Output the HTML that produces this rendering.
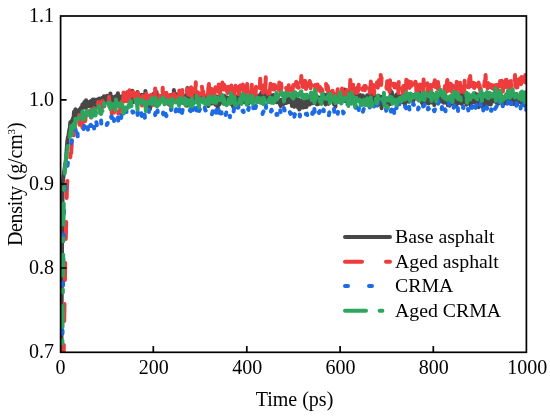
<!DOCTYPE html>
<html><head><meta charset="utf-8"><style>
html,body{margin:0;padding:0;background:#fff;}
svg{display:block;}
text{font-family:"Liberation Serif","Times New Roman",serif;font-size:20px;fill:#000;}
</style></head><body>
<svg width="550" height="417" viewBox="0 0 550 417">
<rect width="550" height="417" fill="#fff"/>
<defs><clipPath id="c"><rect x="60.6" y="16" width="465.8" height="336.3"/></clipPath></defs>
<g clip-path="url(#c)">
<polyline points="61.4,352.0 61.9,267.9 62.3,210.6 62.8,182.3 63.3,177.9 63.7,174.6 64.2,171.1 64.7,168.1 65.1,164.4 65.6,163.2 66.1,159.1 66.5,153.2 67.0,144.7 67.5,140.0 67.9,137.5 68.4,136.0 68.9,132.3 69.3,129.9 69.8,128.4 70.3,122.1 70.7,122.0 71.2,130.0 71.7,124.2 72.1,120.3 72.6,121.2 73.1,118.2 73.5,118.0 74.0,111.8 74.5,121.3 74.9,115.3 75.4,109.3 75.9,114.1 76.3,112.1 76.8,115.2 77.3,116.7 77.7,110.6 78.2,111.9 78.7,114.3 79.1,111.3 79.6,109.7 80.1,111.7 80.5,108.1 81.0,107.8 81.5,107.4 81.9,108.3 82.4,104.5 82.9,104.2 83.3,105.2 83.8,107.5 84.3,102.2 84.7,106.7 85.2,101.3 85.7,107.9 86.1,100.3 86.6,105.0 87.1,106.8 87.5,103.5 88.0,103.3 88.5,102.6 88.9,106.0 89.4,105.1 89.9,101.6 90.3,104.4 90.8,101.5 91.3,100.9 91.7,107.5 92.2,100.2 92.7,99.7 93.1,103.9 93.6,104.0 94.1,99.6 94.5,102.3 95.0,99.7 95.5,103.9 95.9,105.7 96.4,101.4 96.9,103.6 97.3,99.5 97.8,102.2 98.3,106.2 98.7,103.7 99.2,98.6 99.7,100.4 100.1,103.2 100.6,100.3 101.1,99.6 101.5,99.4 102.0,98.1 102.5,99.8 102.9,99.9 103.4,100.1 103.9,96.2 104.3,106.2 104.8,97.2 105.3,99.3 105.7,102.6 106.2,96.9 106.7,101.2 107.1,95.8 107.6,100.2 108.1,96.8 108.5,96.4 109.0,98.9 109.5,101.7 109.9,102.6 110.4,93.5 110.9,101.3 111.3,100.6 111.8,98.6 112.3,100.1 112.7,96.9 113.2,100.1 113.7,99.1 114.1,101.4 114.6,97.5 115.1,102.8 115.5,96.5 116.0,96.0 116.5,104.5 116.9,104.5 117.4,96.1 117.9,93.2 118.3,103.6 118.8,100.9 119.3,96.5 119.7,101.6 120.2,98.9 120.7,99.1 121.1,96.5 121.6,99.7 122.1,96.8 122.5,98.9 123.0,100.1 123.5,98.3 123.9,100.6 124.4,97.2 124.9,101.3 125.3,99.9 125.8,93.3 126.3,99.3 126.7,97.3 127.2,96.2 127.7,98.8 128.1,97.1 128.6,95.5 129.1,96.0 129.5,99.3 130.0,92.3 130.5,98.1 130.9,97.5 131.4,97.2 131.9,95.9 132.3,90.7 132.8,100.0 133.3,93.6 133.7,102.0 134.2,93.8 134.7,94.0 135.1,97.2 135.6,97.4 136.1,95.3 136.5,94.9 137.0,95.5 137.5,92.0 137.9,98.1 138.4,98.7 138.9,97.4 139.3,97.8 139.8,97.4 140.3,98.1 140.7,97.6 141.2,102.9 141.7,94.7 142.1,101.1 142.6,100.9 143.1,96.2 143.5,96.1 144.0,98.6 144.5,98.9 144.9,102.1 145.4,90.9 145.9,100.0 146.3,103.1 146.8,101.5 147.3,99.9 147.7,105.1 148.2,99.0 148.7,102.8 149.1,97.2 149.6,99.6 150.1,109.0 150.5,98.7 151.0,106.2 151.5,96.2 151.9,101.5 152.4,98.5 152.9,103.5 153.3,93.9 153.8,96.0 154.3,103.5 154.7,97.0 155.2,101.4 155.7,97.9 156.1,102.1 156.6,92.1 157.1,102.6 157.5,97.5 158.0,96.7 158.5,100.0 158.9,97.9 159.4,99.4 159.9,97.8 160.3,101.2 160.8,98.4 161.3,98.8 161.7,99.2 162.2,98.2 162.7,99.6 163.1,96.5 163.6,100.5 164.1,99.0 164.5,101.1 165.0,100.2 165.5,102.5 165.9,97.0 166.4,103.2 166.9,100.4 167.3,98.3 167.8,98.7 168.3,100.6 168.7,104.2 169.2,96.2 169.7,98.8 170.1,102.3 170.6,94.9 171.1,100.8 171.5,99.8 172.0,96.3 172.5,97.8 172.9,96.0 173.4,101.2 173.9,90.1 174.3,99.9 174.8,99.5 175.3,93.8 175.7,98.2 176.2,95.0 176.7,97.9 177.1,96.4 177.6,96.2 178.1,99.0 178.5,94.3 179.0,98.8 179.5,98.6 179.9,96.1 180.4,95.9 180.9,98.0 181.3,99.3 181.8,94.9 182.3,102.8 182.7,98.6 183.2,97.1 183.7,101.6 184.1,96.8 184.6,98.7 185.1,95.7 185.5,101.7 186.0,99.4 186.5,97.6 186.9,105.7 187.4,88.1 187.9,103.7 188.3,98.9 188.8,95.8 189.3,99.0 189.7,102.6 190.2,94.8 190.7,96.4 191.1,99.2 191.6,97.7 192.1,96.0 192.5,100.3 193.0,95.3 193.5,97.5 193.9,99.3 194.4,100.8 194.9,97.3 195.3,100.1 195.8,94.2 196.3,98.4 196.7,95.5 197.2,98.2 197.7,97.0 198.1,100.2 198.6,95.3 199.1,93.9 199.5,100.2 200.0,99.2 200.5,98.5 200.9,99.8 201.4,100.3 201.9,98.1 202.3,100.1 202.8,95.1 203.3,100.8 203.7,98.5 204.2,97.7 204.7,101.7 205.1,96.1 205.6,103.6 206.1,102.0 206.5,101.4 207.0,101.0 207.5,104.8 207.9,100.1 208.4,106.0 208.9,95.9 209.3,103.0 209.8,102.4 210.3,103.2 210.7,101.4 211.2,101.3 211.7,103.5 212.1,102.5 212.6,100.7 213.1,102.0 213.5,97.7 214.0,98.4 214.5,101.3 214.9,99.2 215.4,104.7 215.9,97.7 216.3,101.5 216.8,98.9 217.3,96.6 217.7,107.8 218.2,97.4 218.7,104.1 219.1,97.3 219.6,104.4 220.1,99.9 220.5,99.1 221.0,97.9 221.5,99.6 221.9,101.4 222.4,100.1 222.9,96.6 223.3,100.0 223.8,103.6 224.3,95.8 224.7,99.5 225.2,97.3 225.7,101.4 226.1,97.2 226.6,103.7 227.1,97.5 227.5,102.4 228.0,98.0 228.5,98.5 228.9,103.2 229.4,100.0 229.9,100.7 230.3,97.4 230.8,99.7 231.3,104.3 231.7,98.3 232.2,99.3 232.7,95.3 233.1,106.8 233.6,100.3 234.1,97.1 234.5,105.4 235.0,102.6 235.5,98.7 235.9,98.4 236.4,103.0 236.9,98.2 237.3,100.7 237.8,96.0 238.3,101.4 238.7,96.7 239.2,102.9 239.7,98.8 240.1,99.5 240.6,95.6 241.1,98.0 241.5,100.7 242.0,95.7 242.5,96.7 242.9,98.7 243.4,98.4 243.9,98.2 244.3,102.3 244.8,95.9 245.3,97.7 245.7,100.2 246.2,95.1 246.7,102.3 247.1,97.8 247.6,98.9 248.1,91.7 248.5,103.5 249.0,93.9 249.5,95.6 249.9,96.5 250.4,94.1 250.9,100.6 251.3,102.0 251.8,93.3 252.3,101.3 252.7,96.6 253.2,100.5 253.7,93.4 254.1,96.3 254.6,100.1 255.1,94.8 255.5,98.7 256.0,98.5 256.5,98.2 256.9,99.2 257.4,96.7 257.9,98.3 258.3,99.5 258.8,95.4 259.3,100.9 259.7,96.5 260.2,97.4 260.7,94.1 261.1,100.3 261.6,92.2 262.1,98.8 262.5,97.7 263.0,99.2 263.5,95.3 263.9,97.8 264.4,100.1 264.9,99.5 265.3,98.1 265.8,98.8 266.3,93.8 266.7,94.6 267.2,95.8 267.7,96.9 268.1,98.8 268.6,97.0 269.1,95.5 269.5,92.8 270.0,97.2 270.5,99.3 270.9,98.1 271.4,100.2 271.9,100.6 272.3,99.2 272.8,99.0 273.3,94.9 273.7,101.3 274.2,96.2 274.7,96.9 275.1,101.5 275.6,96.1 276.1,100.4 276.5,102.3 277.0,100.0 277.5,101.5 277.9,101.8 278.4,101.7 278.9,100.9 279.3,100.4 279.8,104.3 280.3,100.8 280.7,106.1 281.2,99.8 281.7,100.9 282.1,101.9 282.6,101.4 283.1,100.7 283.5,104.2 284.0,101.9 284.5,100.5 284.9,99.4 285.4,101.1 285.9,94.3 286.3,103.1 286.8,97.1 287.3,97.8 287.7,101.0 288.2,101.6 288.7,102.1 289.1,98.0 289.6,96.6 290.1,99.3 290.5,98.7 291.0,100.5 291.5,97.6 291.9,106.0 292.4,97.3 292.9,100.7 293.4,103.8 293.8,93.6 294.3,106.8 294.8,102.5 295.2,104.6 295.7,98.0 296.2,105.9 296.6,99.8 297.1,102.4 297.6,103.0 298.0,107.6 298.5,104.7 299.0,99.8 299.4,109.6 299.9,105.6 300.4,105.1 300.8,102.4 301.3,104.5 301.8,102.2 302.2,107.6 302.7,100.1 303.2,103.0 303.6,107.6 304.1,97.3 304.6,98.1 305.0,106.0 305.5,101.1 306.0,98.7 306.4,107.1 306.9,105.7 307.4,104.2 307.8,102.5 308.3,102.8 308.8,99.4 309.2,101.2 309.7,104.5 310.2,98.3 310.6,96.4 311.1,98.6 311.6,98.1 312.0,100.6 312.5,97.1 313.0,103.3 313.4,96.7 313.9,100.9 314.4,96.2 314.8,99.6 315.3,102.9 315.8,98.7 316.2,97.1 316.7,104.2 317.2,100.7 317.6,102.5 318.1,104.2 318.6,97.2 319.0,98.4 319.5,99.6 320.0,100.8 320.4,101.2 320.9,100.2 321.4,103.1 321.8,97.7 322.3,98.7 322.8,98.5 323.2,102.4 323.7,99.4 324.2,100.7 324.6,94.7 325.1,100.7 325.6,104.4 326.0,96.8 326.5,94.7 327.0,98.4 327.4,96.7 327.9,99.4 328.4,103.9 328.8,101.9 329.3,100.8 329.8,97.9 330.2,97.4 330.7,96.4 331.2,99.5 331.6,94.9 332.1,99.6 332.6,99.3 333.0,95.1 333.5,101.1 334.0,104.2 334.4,98.8 334.9,97.4 335.4,106.6 335.8,96.5 336.3,99.5 336.8,101.5 337.2,101.0 337.7,98.5 338.2,99.4 338.6,94.0 339.1,97.9 339.6,101.8 340.0,98.4 340.5,95.0 341.0,92.6 341.4,97.1 341.9,95.7 342.4,91.7 342.8,97.7 343.3,96.4 343.8,99.6 344.2,96.1 344.7,89.6 345.2,101.2 345.6,93.7 346.1,99.8 346.6,93.8 347.0,93.7 347.5,97.0 348.0,93.6 348.4,95.0 348.9,95.5 349.4,92.2 349.8,96.1 350.3,98.2 350.8,98.8 351.2,99.3 351.7,95.7 352.2,99.0 352.6,89.7 353.1,94.9 353.6,98.9 354.0,97.9 354.5,92.7 355.0,103.9 355.4,96.5 355.9,94.8 356.4,100.3 356.8,97.5 357.3,98.1 357.8,95.3 358.2,97.7 358.7,96.5 359.2,96.5 359.6,98.2 360.1,95.0 360.6,101.2 361.0,101.4 361.5,102.3 362.0,101.7 362.4,99.1 362.9,95.6 363.4,99.0 363.8,100.1 364.3,101.0 364.8,99.2 365.2,99.4 365.7,99.6 366.2,101.8 366.6,98.5 367.1,95.3 367.6,104.8 368.0,96.5 368.5,103.9 369.0,95.2 369.4,100.1 369.9,102.2 370.4,95.6 370.8,92.8 371.3,98.3 371.8,93.7 372.2,98.5 372.7,102.8 373.2,94.6 373.6,99.9 374.1,101.5 374.6,95.3 375.0,99.0 375.5,100.6 376.0,96.8 376.4,103.2 376.9,97.6 377.4,103.9 377.8,98.3 378.3,104.7 378.8,95.8 379.2,101.9 379.7,96.7 380.2,104.3 380.6,100.8 381.1,98.1 381.6,108.2 382.0,100.2 382.5,96.6 383.0,98.9 383.4,96.6 383.9,100.6 384.4,96.8 384.8,101.3 385.3,101.7 385.8,102.5 386.2,99.2 386.7,100.2 387.2,100.0 387.6,107.9 388.1,101.2 388.6,99.3 389.0,97.6 389.5,100.3 390.0,100.2 390.4,104.1 390.9,91.0 391.4,103.3 391.8,91.9 392.3,95.6 392.8,98.0 393.2,99.6 393.7,97.3 394.2,101.5 394.6,96.5 395.1,98.9 395.6,96.8 396.0,96.4 396.5,94.5 397.0,101.0 397.4,95.2 397.9,102.1 398.4,100.4 398.8,100.3 399.3,101.6 399.8,96.0 400.2,97.8 400.7,96.4 401.2,100.5 401.6,98.5 402.1,101.5 402.6,102.2 403.0,97.6 403.5,99.4 404.0,102.6 404.4,96.8 404.9,104.8 405.4,98.0 405.8,101.2 406.3,99.8 406.8,101.6 407.2,95.5 407.7,98.3 408.2,95.6 408.6,99.1 409.1,101.8 409.6,98.2 410.0,101.4 410.5,95.8 411.0,95.2 411.4,97.6 411.9,99.2 412.4,97.9 412.8,96.4 413.3,101.1 413.8,95.0 414.2,96.5 414.7,97.7 415.2,96.8 415.6,95.3 416.1,98.3 416.6,97.3 417.0,93.1 417.5,95.8 418.0,91.1 418.4,99.8 418.9,99.5 419.4,92.3 419.8,94.7 420.3,98.9 420.8,100.0 421.2,96.2 421.7,102.4 422.2,97.0 422.6,104.0 423.1,97.0 423.6,104.5 424.0,97.4 424.5,95.0 425.0,100.7 425.4,96.4 425.9,101.5 426.4,100.7 426.8,102.6 427.3,95.1 427.8,100.3 428.2,94.1 428.7,103.5 429.2,98.0 429.6,98.7 430.1,94.8 430.6,94.8 431.0,101.4 431.5,100.7 432.0,102.5 432.4,93.4 432.9,99.9 433.4,99.4 433.8,97.9 434.3,105.1 434.8,100.7 435.2,94.7 435.7,97.9 436.2,97.6 436.6,100.8 437.1,95.6 437.6,94.0 438.0,102.7 438.5,96.9 439.0,100.1 439.4,97.2 439.9,99.1 440.4,99.2 440.8,101.5 441.3,98.7 441.8,101.5 442.2,99.7 442.7,100.3 443.2,98.5 443.6,102.7 444.1,101.1 444.6,98.0 445.0,102.6 445.5,101.6 446.0,99.0 446.4,101.5 446.9,101.4 447.4,101.2 447.8,105.2 448.3,99.3 448.8,98.6 449.2,100.7 449.7,105.7 450.2,99.1 450.6,104.1 451.1,100.5 451.6,100.3 452.0,103.7 452.5,95.6 453.0,101.6 453.4,97.2 453.9,98.9 454.4,96.4 454.8,97.5 455.3,104.5 455.8,98.4 456.2,106.3 456.7,99.5 457.2,98.7 457.6,98.6 458.1,97.9 458.6,102.9 459.0,99.6 459.5,101.3 460.0,97.7 460.4,97.9 460.9,103.0 461.4,90.0 461.8,104.0 462.3,100.6 462.8,98.8 463.2,98.7 463.7,99.1 464.2,102.2 464.6,95.4 465.1,101.4 465.6,95.7 466.0,98.0 466.5,104.7 467.0,102.1 467.4,103.2 467.9,99.6 468.4,101.4 468.8,100.4 469.3,103.7 469.8,99.4 470.2,97.9 470.7,105.7 471.2,100.1 471.6,100.3 472.1,101.0 472.6,100.7 473.0,95.3 473.5,98.0 474.0,98.3 474.4,102.5 474.9,93.2 475.4,101.1 475.8,101.3 476.3,100.8 476.8,101.6 477.2,94.5 477.7,102.1 478.2,100.5 478.6,107.2 479.1,97.5 479.6,105.4 480.0,103.3 480.5,99.2 481.0,104.5 481.4,98.3 481.9,99.3 482.4,106.8 482.8,99.9 483.3,105.7 483.8,99.6 484.2,98.7 484.7,105.0 485.2,94.3 485.6,103.0 486.1,102.7 486.6,99.8 487.0,98.2 487.5,104.5 488.0,98.8 488.4,104.3 488.9,95.6 489.4,101.1 489.8,101.0 490.3,97.0 490.8,104.6 491.2,99.9 491.7,95.1 492.2,101.8 492.6,95.7 493.1,100.6 493.6,101.4 494.0,99.8 494.5,99.1 495.0,100.5 495.4,101.0 495.9,100.5 496.4,102.4 496.8,97.3 497.3,97.9 497.8,96.6 498.2,103.8 498.7,94.5 499.2,99.5 499.6,101.9 500.1,97.0 500.6,96.6 501.0,97.7 501.5,96.9 502.0,96.8 502.4,97.1 502.9,99.6 503.4,104.6 503.8,99.6 504.3,98.1 504.8,100.9 505.2,97.0 505.7,97.9 506.2,99.7 506.6,94.2 507.1,103.6 507.6,95.5 508.0,101.8 508.5,100.8 509.0,97.4 509.4,101.7 509.9,96.5 510.4,103.6 510.8,98.2 511.3,102.2 511.8,99.5 512.2,100.8 512.7,102.5 513.2,97.2 513.6,104.0 514.1,101.3 514.6,97.0 515.0,98.1 515.5,98.6 516.0,99.3 516.4,93.9 516.9,105.0 517.4,100.4 517.8,102.5 518.3,96.7 518.8,100.2 519.2,96.9 519.7,98.4 520.2,101.3 520.6,102.0 521.1,102.3 521.6,93.4 522.0,99.5 522.5,98.7 523.0,101.3 523.4,100.0 523.9,100.6 524.4,100.1 524.8,105.6 525.3,97.3 525.8,100.3 526.2,97.3 526.7,98.2" fill="none" stroke="#474747" stroke-width="4" stroke-linecap="round" stroke-linejoin="round"/>
<polyline points="63.7,352.0 64.2,322.7 64.7,294.5 65.1,268.8 65.6,246.4 66.1,225.6 66.5,203.6 67.0,184.8 67.5,179.4 67.9,177.4 68.4,171.8 68.9,170.7 69.3,162.9 69.8,161.9 70.3,156.9 70.7,153.1 71.2,153.2 71.7,143.6 72.1,138.5 72.6,147.6 73.1,141.7 73.5,139.7 74.0,129.1 74.5,131.1 74.9,123.3 75.4,124.9 75.9,124.8 76.3,123.2 76.8,123.9 77.3,119.1 77.7,126.6 78.2,121.4 78.7,120.4 79.1,115.0 79.6,124.8 80.1,122.5 80.5,120.9 81.0,115.9 81.5,121.3 81.9,114.4 82.4,127.4 82.9,113.9 83.3,118.9 83.8,126.1 84.3,118.7 84.7,117.2 85.2,121.1 85.7,116.2 86.1,112.2 86.6,119.3 87.1,117.8 87.5,118.4 88.0,112.1 88.5,115.4 88.9,112.9 89.4,112.2 89.9,108.9 90.3,115.0 90.8,114.4 91.3,117.6 91.7,104.6 92.2,112.6 92.7,105.6 93.1,112.9 93.6,113.0 94.1,108.2 94.5,110.6 95.0,112.8 95.5,109.9 95.9,100.7 96.4,107.5 96.9,104.7 97.3,107.5 97.8,107.8 98.3,102.0 98.7,106.6 99.2,106.9 99.7,104.1 100.1,107.0 100.6,102.1 101.1,100.1 101.5,107.2 102.0,97.6 102.5,107.3 102.9,101.5 103.4,106.4 103.9,102.7 104.3,103.0 104.8,104.8 105.3,105.8 105.7,106.3 106.2,107.2 106.7,109.8 107.1,104.5 107.6,103.3 108.1,101.6 108.5,102.9 109.0,96.7 109.5,106.5 109.9,107.2 110.4,100.3 110.9,113.4 111.3,103.6 111.8,113.6 112.3,106.4 112.7,116.7 113.2,104.3 113.7,111.9 114.1,112.5 114.6,103.7 115.1,109.7 115.5,110.4 116.0,113.0 116.5,110.0 116.9,111.6 117.4,108.6 117.9,109.1 118.3,113.5 118.8,111.2 119.3,111.2 119.7,113.1 120.2,108.9 120.7,107.3 121.1,103.8 121.6,101.5 122.1,107.9 122.5,99.8 123.0,104.0 123.5,92.5 123.9,101.4 124.4,95.2 124.9,100.4 125.3,97.4 125.8,94.3 126.3,96.9 126.7,93.6 127.2,101.3 127.7,91.7 128.1,100.0 128.6,88.7 129.1,98.5 129.5,90.2 130.0,100.3 130.5,90.9 130.9,98.2 131.4,94.7 131.9,94.1 132.3,95.6 132.8,93.2 133.3,92.0 133.7,92.4 134.2,94.4 134.7,97.9 135.1,94.9 135.6,93.9 136.1,101.0 136.5,89.7 137.0,97.1 137.5,95.7 137.9,92.8 138.4,95.5 138.9,97.2 139.3,101.9 139.8,97.1 140.3,99.1 140.7,102.8 141.2,95.2 141.7,99.0 142.1,105.6 142.6,96.0 143.1,103.0 143.5,92.5 144.0,96.8 144.5,102.3 144.9,100.2 145.4,98.0 145.9,100.1 146.3,93.6 146.8,98.2 147.3,100.3 147.7,96.7 148.2,106.7 148.7,96.0 149.1,97.7 149.6,101.2 150.1,102.3 150.5,97.5 151.0,94.0 151.5,100.4 151.9,102.0 152.4,92.0 152.9,104.9 153.3,91.7 153.8,98.3 154.3,90.3 154.7,98.2 155.2,88.5 155.7,95.1 156.1,100.6 156.6,100.6 157.1,95.9 157.5,92.8 158.0,98.4 158.5,97.3 158.9,98.9 159.4,95.4 159.9,97.7 160.3,97.3 160.8,101.6 161.3,92.7 161.7,94.6 162.2,102.6 162.7,87.8 163.1,97.2 163.6,98.1 164.1,102.5 164.5,92.7 165.0,96.3 165.5,99.5 165.9,103.3 166.4,92.8 166.9,102.0 167.3,99.0 167.8,88.7 168.3,93.9 168.7,96.1 169.2,100.1 169.7,95.2 170.1,106.7 170.6,95.5 171.1,101.9 171.5,101.8 172.0,102.5 172.5,94.7 172.9,98.0 173.4,96.1 173.9,93.8 174.3,99.9 174.8,99.0 175.3,100.9 175.7,95.3 176.2,93.3 176.7,96.8 177.1,92.8 177.6,99.9 178.1,95.1 178.5,97.3 179.0,97.8 179.5,86.5 179.9,92.6 180.4,95.5 180.9,94.2 181.3,91.9 181.8,97.4 182.3,89.9 182.7,99.1 183.2,94.4 183.7,98.9 184.1,96.5 184.6,100.2 185.1,99.8 185.5,97.5 186.0,96.7 186.5,95.0 186.9,93.9 187.4,89.0 187.9,92.5 188.3,94.5 188.8,89.7 189.3,95.0 189.7,85.5 190.2,90.8 190.7,95.5 191.1,87.2 191.6,90.0 192.1,101.6 192.5,92.0 193.0,93.9 193.5,97.9 193.9,93.2 194.4,93.7 194.9,88.4 195.3,90.6 195.8,82.3 196.3,95.7 196.7,87.3 197.2,94.3 197.7,92.2 198.1,98.0 198.6,99.0 199.1,94.7 199.5,90.5 200.0,88.6 200.5,91.9 200.9,90.8 201.4,95.4 201.9,86.0 202.3,89.4 202.8,94.9 203.3,91.8 203.7,96.1 204.2,86.3 204.7,92.3 205.1,91.7 205.6,89.6 206.1,89.9 206.5,92.5 207.0,94.4 207.5,94.0 207.9,95.8 208.4,87.8 208.9,83.9 209.3,97.7 209.8,86.9 210.3,89.2 210.7,93.6 211.2,88.8 211.7,95.2 212.1,85.8 212.6,94.9 213.1,89.7 213.5,88.8 214.0,92.1 214.5,95.2 214.9,89.8 215.4,87.3 215.9,91.2 216.3,89.3 216.8,94.4 217.3,88.7 217.7,88.2 218.2,90.6 218.7,83.3 219.1,92.5 219.6,92.6 220.1,94.3 220.5,84.3 221.0,91.0 221.5,84.8 221.9,87.9 222.4,82.5 222.9,85.0 223.3,89.5 223.8,86.1 224.3,84.9 224.7,93.6 225.2,82.4 225.7,86.9 226.1,86.7 226.6,90.8 227.1,87.6 227.5,92.9 228.0,86.7 228.5,90.0 228.9,86.5 229.4,89.6 229.9,86.3 230.3,85.0 230.8,95.0 231.3,85.6 231.7,99.1 232.2,96.1 232.7,90.4 233.1,91.7 233.6,89.5 234.1,96.9 234.5,89.0 235.0,90.3 235.5,85.8 235.9,91.5 236.4,87.4 236.9,93.4 237.3,88.9 237.8,91.2 238.3,86.9 238.7,94.2 239.2,91.8 239.7,88.1 240.1,85.4 240.6,91.1 241.1,89.8 241.5,92.4 242.0,86.6 242.5,90.0 242.9,84.6 243.4,90.5 243.9,92.6 244.3,90.5 244.8,92.3 245.3,92.7 245.7,84.4 246.2,89.0 246.7,95.2 247.1,84.0 247.6,93.4 248.1,95.3 248.5,90.6 249.0,93.6 249.5,94.7 249.9,97.5 250.4,89.0 250.9,90.0 251.3,98.4 251.8,84.7 252.3,88.6 252.7,91.5 253.2,89.0 253.7,91.6 254.1,93.2 254.6,91.2 255.1,85.8 255.5,96.4 256.0,86.7 256.5,89.1 256.9,90.7 257.4,89.2 257.9,92.8 258.3,90.0 258.8,88.4 259.3,88.4 259.7,93.1 260.2,78.7 260.7,95.7 261.1,88.7 261.6,92.2 262.1,91.8 262.5,85.7 263.0,92.7 263.5,83.4 263.9,85.8 264.4,91.4 264.9,82.0 265.3,90.4 265.8,76.8 266.3,92.1 266.7,90.5 267.2,95.3 267.7,92.6 268.1,91.5 268.6,93.5 269.1,93.7 269.5,91.4 270.0,89.7 270.5,83.7 270.9,95.4 271.4,87.4 271.9,90.8 272.3,91.4 272.8,90.4 273.3,89.8 273.7,84.8 274.2,89.5 274.7,89.2 275.1,85.3 275.6,87.6 276.1,88.7 276.5,86.5 277.0,91.5 277.5,85.4 277.9,88.2 278.4,90.6 278.9,92.6 279.3,82.6 279.8,90.3 280.3,77.6 280.7,93.6 281.2,83.7 281.7,90.8 282.1,86.2 282.6,85.6 283.1,91.3 283.5,87.3 284.0,87.7 284.5,87.9 284.9,86.3 285.4,85.7 285.9,86.8 286.3,88.7 286.8,90.2 287.3,92.4 287.7,90.2 288.2,89.8 288.7,85.3 289.1,89.8 289.6,91.2 290.1,84.2 290.5,91.0 291.0,88.8 291.5,87.5 291.9,85.2 292.4,95.2 292.9,87.2 293.4,84.8 293.8,86.9 294.3,87.7 294.8,86.3 295.2,80.1 295.7,88.1 296.2,81.7 296.6,83.2 297.1,87.1 297.6,83.1 298.0,87.6 298.5,87.0 299.0,89.0 299.4,81.3 299.9,87.3 300.4,85.2 300.8,86.9 301.3,76.0 301.8,82.8 302.2,84.1 302.7,86.3 303.2,89.2 303.6,83.0 304.1,85.5 304.6,90.7 305.0,80.7 305.5,84.9 306.0,89.1 306.4,86.1 306.9,86.0 307.4,83.6 307.8,85.0 308.3,89.5 308.8,77.9 309.2,85.8 309.7,80.9 310.2,83.2 310.6,88.2 311.1,85.4 311.6,85.2 312.0,85.1 312.5,88.1 313.0,88.7 313.4,86.1 313.9,89.7 314.4,87.8 314.8,93.3 315.3,85.0 315.8,91.7 316.2,88.6 316.7,88.7 317.2,88.4 317.6,84.0 318.1,91.7 318.6,95.0 319.0,88.6 319.5,92.5 320.0,87.1 320.4,91.5 320.9,89.5 321.4,88.8 321.8,89.1 322.3,92.9 322.8,87.7 323.2,86.8 323.7,82.9 324.2,89.0 324.6,87.3 325.1,84.7 325.6,86.1 326.0,83.1 326.5,88.4 327.0,89.8 327.4,85.7 327.9,87.2 328.4,94.3 328.8,90.4 329.3,97.9 329.8,91.3 330.2,95.1 330.7,91.7 331.2,93.7 331.6,92.2 332.1,92.5 332.6,90.7 333.0,92.5 333.5,95.1 334.0,97.0 334.4,88.1 334.9,90.4 335.4,96.0 335.8,90.8 336.3,99.5 336.8,97.2 337.2,93.7 337.7,89.2 338.2,99.3 338.6,95.7 339.1,88.5 339.6,102.3 340.0,89.4 340.5,93.5 341.0,94.2 341.4,92.4 341.9,84.6 342.4,99.4 342.8,92.2 343.3,93.9 343.8,94.6 344.2,96.3 344.7,85.6 345.2,93.2 345.6,97.3 346.1,92.5 346.6,90.0 347.0,90.6 347.5,96.4 348.0,90.0 348.4,90.3 348.9,88.8 349.4,88.4 349.8,95.1 350.3,79.9 350.8,89.3 351.2,80.7 351.7,79.7 352.2,90.5 352.6,91.5 353.1,84.8 353.6,91.0 354.0,90.6 354.5,93.2 355.0,83.6 355.4,93.6 355.9,93.6 356.4,90.0 356.8,93.1 357.3,87.4 357.8,90.5 358.2,91.0 358.7,84.7 359.2,90.5 359.6,84.0 360.1,84.3 360.6,89.8 361.0,89.6 361.5,87.3 362.0,86.0 362.4,89.7 362.9,88.0 363.4,88.7 363.8,87.1 364.3,86.1 364.8,90.2 365.2,87.6 365.7,86.1 366.2,88.6 366.6,85.0 367.1,84.7 367.6,87.0 368.0,89.0 368.5,89.7 369.0,81.8 369.4,87.7 369.9,92.9 370.4,90.3 370.8,81.6 371.3,84.9 371.8,87.9 372.2,82.9 372.7,93.0 373.2,85.1 373.6,85.1 374.1,94.0 374.6,88.0 375.0,84.5 375.5,84.1 376.0,89.6 376.4,84.2 376.9,80.4 377.4,87.2 377.8,87.6 378.3,82.2 378.8,84.1 379.2,76.9 379.7,82.1 380.2,83.2 380.6,71.8 381.1,85.0 381.6,78.0 382.0,79.7 382.5,79.3 383.0,81.9 383.4,80.1 383.9,83.4 384.4,87.8 384.8,83.4 385.3,85.7 385.8,86.1 386.2,85.7 386.7,88.8 387.2,81.2 387.6,82.1 388.1,93.7 388.6,81.9 389.0,87.2 389.5,91.8 390.0,80.3 390.4,87.4 390.9,84.7 391.4,86.7 391.8,80.3 392.3,81.7 392.8,84.4 393.2,82.1 393.7,85.7 394.2,83.9 394.6,87.6 395.1,83.9 395.6,87.5 396.0,82.7 396.5,82.5 397.0,84.0 397.4,80.1 397.9,75.8 398.4,92.9 398.8,80.6 399.3,86.5 399.8,84.7 400.2,89.1 400.7,84.3 401.2,87.9 401.6,89.0 402.1,88.2 402.6,89.9 403.0,95.4 403.5,82.2 404.0,90.6 404.4,89.5 404.9,84.8 405.4,88.6 405.8,91.9 406.3,79.8 406.8,91.2 407.2,82.5 407.7,84.0 408.2,79.6 408.6,81.8 409.1,85.0 409.6,87.9 410.0,86.5 410.5,82.7 411.0,82.0 411.4,86.7 411.9,89.2 412.4,82.5 412.8,88.6 413.3,86.2 413.8,85.9 414.2,82.6 414.7,84.6 415.2,81.8 415.6,81.8 416.1,84.8 416.6,94.0 417.0,89.5 417.5,85.1 418.0,87.5 418.4,79.7 418.9,89.8 419.4,87.4 419.8,84.5 420.3,84.7 420.8,88.6 421.2,84.6 421.7,90.8 422.2,87.8 422.6,80.8 423.1,91.2 423.6,79.6 424.0,83.3 424.5,81.2 425.0,80.8 425.4,81.9 425.9,91.1 426.4,85.6 426.8,87.2 427.3,83.2 427.8,92.8 428.2,89.8 428.7,90.2 429.2,84.7 429.6,95.2 430.1,91.1 430.6,85.1 431.0,95.6 431.5,83.5 432.0,89.2 432.4,90.6 432.9,85.8 433.4,88.7 433.8,83.4 434.3,84.2 434.8,80.3 435.2,86.9 435.7,85.2 436.2,88.6 436.6,86.0 437.1,83.4 437.6,94.1 438.0,81.9 438.5,89.1 439.0,84.3 439.4,84.5 439.9,82.2 440.4,84.6 440.8,86.0 441.3,83.4 441.8,85.4 442.2,86.0 442.7,84.9 443.2,83.4 443.6,86.7 444.1,86.0 444.6,91.3 445.0,85.9 445.5,93.5 446.0,83.0 446.4,92.0 446.9,82.2 447.4,80.0 447.8,92.6 448.3,83.3 448.8,89.4 449.2,90.7 449.7,90.9 450.2,85.4 450.6,83.6 451.1,87.0 451.6,91.8 452.0,88.3 452.5,86.4 453.0,81.5 453.4,86.4 453.9,84.7 454.4,82.0 454.8,87.3 455.3,85.0 455.8,85.7 456.2,90.9 456.7,81.8 457.2,84.8 457.6,82.1 458.1,90.5 458.6,87.2 459.0,82.8 459.5,86.8 460.0,82.8 460.4,92.1 460.9,86.2 461.4,91.2 461.8,86.4 462.3,90.1 462.8,85.0 463.2,83.9 463.7,84.9 464.2,92.4 464.6,80.7 465.1,86.0 465.6,89.8 466.0,88.6 466.5,86.4 467.0,85.7 467.4,89.6 467.9,92.4 468.4,84.9 468.8,87.3 469.3,78.8 469.8,93.7 470.2,76.1 470.7,83.7 471.2,85.9 471.6,80.2 472.1,86.7 472.6,81.2 473.0,88.0 473.5,82.7 474.0,87.7 474.4,87.9 474.9,83.5 475.4,86.2 475.8,81.5 476.3,81.0 476.8,86.3 477.2,84.2 477.7,84.8 478.2,91.2 478.6,82.6 479.1,86.0 479.6,85.3 480.0,89.2 480.5,91.3 481.0,85.2 481.4,85.5 481.9,82.1 482.4,83.9 482.8,81.9 483.3,85.5 483.8,80.8 484.2,86.0 484.7,81.1 485.2,81.1 485.6,75.0 486.1,85.1 486.6,87.3 487.0,77.9 487.5,88.2 488.0,82.9 488.4,85.7 488.9,87.4 489.4,79.7 489.8,85.0 490.3,87.9 490.8,85.1 491.2,87.8 491.7,83.5 492.2,88.4 492.6,88.4 493.1,88.2 493.6,87.8 494.0,85.4 494.5,90.1 495.0,85.9 495.4,85.2 495.9,78.7 496.4,85.5 496.8,96.4 497.3,84.7 497.8,87.5 498.2,83.9 498.7,80.4 499.2,83.8 499.6,92.8 500.1,81.1 500.6,85.3 501.0,83.1 501.5,80.7 502.0,89.8 502.4,79.6 502.9,91.6 503.4,81.9 503.8,83.4 504.3,76.1 504.8,88.1 505.2,87.9 505.7,79.9 506.2,87.1 506.6,78.0 507.1,89.0 507.6,86.9 508.0,80.9 508.5,86.8 509.0,82.1 509.4,91.7 509.9,78.1 510.4,89.4 510.8,81.1 511.3,89.6 511.8,89.0 512.2,85.1 512.7,84.8 513.2,80.1 513.6,85.6 514.1,82.5 514.6,83.6 515.0,75.0 515.5,91.0 516.0,79.4 516.4,87.5 516.9,83.7 517.4,87.3 517.8,79.8 518.3,89.3 518.8,85.9 519.2,82.4 519.7,86.0 520.2,78.2 520.6,79.4 521.1,84.2 521.6,77.1 522.0,83.6 522.5,79.1 523.0,79.8 523.4,72.9 523.9,81.0 524.4,81.7 524.8,81.8 525.3,74.9 525.8,87.0 526.2,79.8 526.7,82.1" fill="none" stroke="#ee3b3b" stroke-width="4" stroke-linecap="round" stroke-linejoin="round" stroke-dasharray="17 24" stroke-dashoffset="10"/>
<polyline points="62.3,352.0 62.8,307.3 63.3,265.7 63.7,227.7 64.2,204.0 64.7,198.4 65.1,190.7 65.6,184.3 66.1,179.8 66.5,175.5 67.0,170.5 67.5,165.7 67.9,162.6 68.4,157.0 68.9,155.5 69.3,151.1 69.8,146.3 70.3,146.8 70.7,146.0 71.2,143.2 71.7,140.1 72.1,135.6 72.6,138.2 73.1,134.5 73.5,131.4 74.0,133.6 74.5,130.0 74.9,128.2 75.4,129.5 75.9,130.5 76.3,130.0 76.8,137.3 77.3,129.0 77.7,136.6 78.2,135.4 78.7,133.0 79.1,133.1 79.6,134.4 80.1,134.3 80.5,131.7 81.0,132.3 81.5,128.7 81.9,130.2 82.4,129.4 82.9,127.0 83.3,129.2 83.8,128.6 84.3,125.5 84.7,126.2 85.2,127.3 85.7,128.4 86.1,126.8 86.6,132.5 87.1,124.9 87.5,127.9 88.0,129.6 88.5,125.1 88.9,127.6 89.4,122.7 89.9,129.1 90.3,125.0 90.8,124.8 91.3,125.2 91.7,131.6 92.2,126.8 92.7,127.5 93.1,128.4 93.6,123.3 94.1,128.6 94.5,122.4 95.0,126.0 95.5,119.3 95.9,123.5 96.4,122.2 96.9,125.2 97.3,118.6 97.8,123.4 98.3,122.1 98.7,122.4 99.2,124.0 99.7,125.0 100.1,124.5 100.6,124.4 101.1,120.6 101.5,126.8 102.0,122.9 102.5,124.5 102.9,123.8 103.4,124.3 103.9,128.2 104.3,128.3 104.8,126.0 105.3,125.0 105.7,126.0 106.2,125.9 106.7,125.6 107.1,123.4 107.6,123.8 108.1,120.3 108.5,122.8 109.0,118.8 109.5,119.8 109.9,117.6 110.4,118.7 110.9,114.2 111.3,117.9 111.8,116.4 112.3,122.8 112.7,117.0 113.2,119.0 113.7,115.5 114.1,121.0 114.6,112.6 115.1,116.3 115.5,119.3 116.0,118.3 116.5,119.2 116.9,118.3 117.4,118.3 117.9,116.4 118.3,121.1 118.8,117.2 119.3,119.1 119.7,114.9 120.2,117.4 120.7,114.3 121.1,118.5 121.6,114.4 122.1,116.1 122.5,110.5 123.0,113.2 123.5,113.0 123.9,112.8 124.4,111.1 124.9,113.9 125.3,113.6 125.8,111.7 126.3,109.4 126.7,115.0 127.2,113.3 127.7,115.0 128.1,114.6 128.6,111.7 129.1,112.3 129.5,113.4 130.0,112.3 130.5,112.8 130.9,112.1 131.4,114.5 131.9,111.2 132.3,111.3 132.8,112.7 133.3,111.7 133.7,112.9 134.2,111.6 134.7,110.1 135.1,112.7 135.6,110.9 136.1,109.6 136.5,110.4 137.0,108.5 137.5,116.0 137.9,108.4 138.4,114.2 138.9,111.2 139.3,111.6 139.8,111.5 140.3,112.1 140.7,113.8 141.2,111.1 141.7,116.0 142.1,114.3 142.6,113.7 143.1,116.4 143.5,110.9 144.0,115.3 144.5,112.0 144.9,117.8 145.4,116.9 145.9,117.0 146.3,116.4 146.8,118.8 147.3,115.5 147.7,116.2 148.2,111.4 148.7,115.3 149.1,109.2 149.6,113.3 150.1,111.4 150.5,111.3 151.0,112.1 151.5,109.7 151.9,109.5 152.4,111.3 152.9,110.1 153.3,109.1 153.8,112.0 154.3,111.5 154.7,113.1 155.2,115.1 155.7,110.7 156.1,117.1 156.6,110.5 157.1,114.2 157.5,110.6 158.0,113.9 158.5,113.8 158.9,111.9 159.4,114.6 159.9,113.2 160.3,113.6 160.8,114.0 161.3,114.1 161.7,115.1 162.2,113.5 162.7,117.6 163.1,112.6 163.6,116.4 164.1,111.1 164.5,113.2 165.0,118.2 165.5,112.8 165.9,115.6 166.4,116.1 166.9,112.8 167.3,115.3 167.8,115.8 168.3,112.0 168.7,112.0 169.2,110.3 169.7,112.0 170.1,107.1 170.6,107.9 171.1,110.1 171.5,108.1 172.0,107.9 172.5,109.1 172.9,105.4 173.4,110.1 173.9,110.8 174.3,110.3 174.8,109.3 175.3,105.9 175.7,111.4 176.2,108.7 176.7,109.4 177.1,110.4 177.6,106.4 178.1,113.0 178.5,108.3 179.0,111.3 179.5,109.3 179.9,113.3 180.4,107.3 180.9,113.3 181.3,110.7 181.8,113.4 182.3,111.6 182.7,109.5 183.2,109.0 183.7,109.0 184.1,107.9 184.6,109.1 185.1,109.8 185.5,108.3 186.0,109.0 186.5,109.2 186.9,107.1 187.4,106.1 187.9,107.5 188.3,107.7 188.8,106.0 189.3,105.5 189.7,110.6 190.2,109.6 190.7,111.2 191.1,109.2 191.6,115.7 192.1,109.4 192.5,110.3 193.0,112.9 193.5,107.7 193.9,111.2 194.4,111.3 194.9,109.8 195.3,113.1 195.8,109.7 196.3,106.5 196.7,111.6 197.2,104.0 197.7,109.7 198.1,105.5 198.6,109.0 199.1,112.0 199.5,108.8 200.0,109.6 200.5,112.3 200.9,112.1 201.4,109.4 201.9,112.0 202.3,112.2 202.8,110.0 203.3,108.0 203.7,110.7 204.2,107.0 204.7,107.5 205.1,109.5 205.6,110.5 206.1,110.3 206.5,108.1 207.0,107.4 207.5,108.9 207.9,108.3 208.4,111.1 208.9,109.7 209.3,112.6 209.8,112.2 210.3,114.8 210.7,114.8 211.2,113.4 211.7,115.1 212.1,113.9 212.6,111.1 213.1,113.1 213.5,106.9 214.0,112.3 214.5,112.6 214.9,110.1 215.4,112.0 215.9,113.3 216.3,109.9 216.8,114.7 217.3,116.6 217.7,109.3 218.2,114.6 218.7,108.9 219.1,114.8 219.6,113.7 220.1,110.0 220.5,116.4 221.0,112.2 221.5,112.3 221.9,115.0 222.4,114.7 222.9,114.7 223.3,113.5 223.8,116.4 224.3,112.5 224.7,113.5 225.2,109.5 225.7,115.0 226.1,113.2 226.6,110.6 227.1,113.4 227.5,111.2 228.0,112.5 228.5,110.3 228.9,114.4 229.4,112.0 229.9,117.3 230.3,112.3 230.8,110.1 231.3,114.5 231.7,112.3 232.2,113.4 232.7,109.2 233.1,110.7 233.6,111.7 234.1,107.8 234.5,109.9 235.0,108.3 235.5,111.5 235.9,106.1 236.4,110.3 236.9,109.1 237.3,109.5 237.8,108.1 238.3,106.1 238.7,108.2 239.2,105.2 239.7,107.5 240.1,106.1 240.6,108.7 241.1,110.1 241.5,113.5 242.0,109.4 242.5,110.7 242.9,111.5 243.4,110.7 243.9,113.0 244.3,112.2 244.8,113.8 245.3,109.4 245.7,113.4 246.2,112.7 246.7,113.7 247.1,110.5 247.6,108.1 248.1,109.4 248.5,109.8 249.0,105.1 249.5,106.3 249.9,106.1 250.4,106.2 250.9,105.3 251.3,106.6 251.8,105.7 252.3,109.0 252.7,104.1 253.2,108.5 253.7,104.0 254.1,113.0 254.6,104.8 255.1,107.3 255.5,108.0 256.0,106.0 256.5,106.0 256.9,106.0 257.4,107.6 257.9,106.2 258.3,104.8 258.8,104.8 259.3,107.0 259.7,106.5 260.2,107.2 260.7,106.6 261.1,111.9 261.6,111.8 262.1,110.6 262.5,114.1 263.0,112.2 263.5,111.7 263.9,110.3 264.4,112.1 264.9,106.7 265.3,111.9 265.8,104.8 266.3,110.7 266.7,107.7 267.2,106.0 267.7,109.4 268.1,109.8 268.6,109.9 269.1,108.9 269.5,110.4 270.0,109.8 270.5,108.1 270.9,111.7 271.4,109.7 271.9,110.7 272.3,107.7 272.8,109.7 273.3,108.9 273.7,111.7 274.2,110.9 274.7,109.7 275.1,112.8 275.6,110.2 276.1,112.4 276.5,114.9 277.0,113.8 277.5,115.1 277.9,111.8 278.4,111.4 278.9,115.5 279.3,112.8 279.8,117.0 280.3,110.3 280.7,112.5 281.2,112.8 281.7,109.0 282.1,114.0 282.6,109.5 283.1,110.6 283.5,112.3 284.0,108.1 284.5,109.7 284.9,113.3 285.4,112.1 285.9,109.4 286.3,112.1 286.8,113.5 287.3,112.0 287.7,113.1 288.2,113.3 288.7,112.2 289.1,113.9 289.6,111.2 290.1,113.1 290.5,113.9 291.0,113.2 291.5,113.4 291.9,114.7 292.4,117.9 292.9,113.3 293.4,116.6 293.8,112.6 294.3,116.7 294.8,114.1 295.2,115.2 295.7,112.3 296.2,116.0 296.6,115.0 297.1,114.2 297.6,115.8 298.0,113.9 298.5,114.7 299.0,113.8 299.4,111.3 299.9,116.4 300.4,113.7 300.8,115.3 301.3,113.5 301.8,117.8 302.2,115.6 302.7,115.7 303.2,114.8 303.6,116.0 304.1,115.9 304.6,116.0 305.0,113.2 305.5,112.3 306.0,114.3 306.4,113.7 306.9,113.6 307.4,116.2 307.8,114.3 308.3,115.2 308.8,114.2 309.2,115.6 309.7,117.7 310.2,113.6 310.6,114.5 311.1,117.1 311.6,114.4 312.0,114.7 312.5,112.3 313.0,115.8 313.4,108.1 313.9,114.0 314.4,108.8 314.8,113.2 315.3,112.8 315.8,113.1 316.2,111.7 316.7,115.5 317.2,113.3 317.6,114.3 318.1,115.9 318.6,109.9 319.0,113.0 319.5,112.2 320.0,109.8 320.4,113.3 320.9,109.5 321.4,107.2 321.8,108.7 322.3,113.5 322.8,114.0 323.2,110.8 323.7,109.7 324.2,114.0 324.6,112.6 325.1,112.2 325.6,115.0 326.0,111.9 326.5,112.1 327.0,112.7 327.4,113.0 327.9,115.2 328.4,113.2 328.8,116.2 329.3,112.4 329.8,111.9 330.2,117.4 330.7,117.4 331.2,114.1 331.6,113.7 332.1,112.2 332.6,111.9 333.0,114.3 333.5,112.3 334.0,108.7 334.4,113.4 334.9,107.2 335.4,111.6 335.8,108.5 336.3,110.4 336.8,109.9 337.2,110.5 337.7,113.8 338.2,110.8 338.6,113.0 339.1,112.0 339.6,111.1 340.0,114.1 340.5,113.8 341.0,114.1 341.4,113.5 341.9,112.0 342.4,115.2 342.8,110.5 343.3,113.4 343.8,112.5 344.2,113.9 344.7,109.6 345.2,109.2 345.6,112.2 346.1,104.6 346.6,105.5 347.0,106.3 347.5,104.5 348.0,101.1 348.4,103.9 348.9,106.1 349.4,103.5 349.8,104.3 350.3,103.6 350.8,107.2 351.2,100.0 351.7,104.8 352.2,101.4 352.6,103.5 353.1,101.6 353.6,105.5 354.0,106.2 354.5,105.2 355.0,105.5 355.4,109.5 355.9,105.8 356.4,109.4 356.8,109.5 357.3,105.7 357.8,110.9 358.2,105.5 358.7,110.1 359.2,106.6 359.6,110.7 360.1,108.4 360.6,106.0 361.0,108.4 361.5,107.8 362.0,109.1 362.4,107.6 362.9,111.8 363.4,109.9 363.8,109.0 364.3,110.0 364.8,108.6 365.2,106.9 365.7,106.3 366.2,105.0 366.6,101.1 367.1,102.8 367.6,101.1 368.0,103.7 368.5,103.8 369.0,106.3 369.4,104.8 369.9,109.7 370.4,106.6 370.8,106.8 371.3,105.8 371.8,107.3 372.2,109.2 372.7,105.3 373.2,108.4 373.6,104.2 374.1,107.5 374.6,104.8 375.0,103.3 375.5,107.3 376.0,103.6 376.4,108.5 376.9,106.9 377.4,103.8 377.8,103.1 378.3,106.0 378.8,102.5 379.2,105.1 379.7,100.5 380.2,99.6 380.6,101.0 381.1,101.0 381.6,102.6 382.0,99.6 382.5,100.8 383.0,101.6 383.4,102.9 383.9,105.9 384.4,100.4 384.8,106.3 385.3,104.8 385.8,104.8 386.2,110.8 386.7,106.1 387.2,109.3 387.6,108.3 388.1,108.0 388.6,110.5 389.0,113.5 389.5,109.6 390.0,110.0 390.4,109.4 390.9,111.5 391.4,110.8 391.8,106.9 392.3,108.5 392.8,108.3 393.2,111.2 393.7,104.0 394.2,114.6 394.6,105.6 395.1,104.5 395.6,108.1 396.0,105.3 396.5,108.2 397.0,102.3 397.4,108.9 397.9,103.6 398.4,105.8 398.8,106.8 399.3,102.8 399.8,107.8 400.2,103.9 400.7,103.6 401.2,104.0 401.6,102.4 402.1,102.5 402.6,105.1 403.0,105.5 403.5,106.4 404.0,106.7 404.4,105.3 404.9,108.1 405.4,106.2 405.8,107.8 406.3,108.4 406.8,105.1 407.2,109.5 407.7,106.0 408.2,105.1 408.6,110.2 409.1,106.8 409.6,111.1 410.0,107.8 410.5,110.9 411.0,107.3 411.4,108.4 411.9,106.0 412.4,103.5 412.8,105.6 413.3,103.3 413.8,104.9 414.2,104.4 414.7,105.8 415.2,107.4 415.6,104.5 416.1,104.1 416.6,107.2 417.0,108.5 417.5,104.6 418.0,109.6 418.4,107.4 418.9,108.8 419.4,107.3 419.8,106.3 420.3,103.0 420.8,108.7 421.2,108.6 421.7,108.6 422.2,108.2 422.6,110.9 423.1,106.2 423.6,106.1 424.0,105.8 424.5,104.6 425.0,107.9 425.4,107.5 425.9,103.5 426.4,106.3 426.8,110.5 427.3,106.8 427.8,109.4 428.2,107.7 428.7,108.7 429.2,109.2 429.6,107.7 430.1,108.2 430.6,108.2 431.0,111.3 431.5,112.1 432.0,108.3 432.4,111.8 432.9,107.9 433.4,109.2 433.8,110.0 434.3,111.2 434.8,110.0 435.2,108.2 435.7,111.0 436.2,105.7 436.6,106.7 437.1,105.4 437.6,102.3 438.0,105.9 438.5,100.8 439.0,105.7 439.4,103.8 439.9,105.7 440.4,103.3 440.8,107.7 441.3,105.4 441.8,109.2 442.2,104.5 442.7,105.4 443.2,108.1 443.6,105.0 444.1,108.6 444.6,105.0 445.0,110.3 445.5,111.2 446.0,105.7 446.4,110.2 446.9,108.8 447.4,107.3 447.8,108.1 448.3,104.0 448.8,106.3 449.2,100.7 449.7,104.5 450.2,107.7 450.6,107.1 451.1,107.2 451.6,110.7 452.0,107.1 452.5,108.9 453.0,109.4 453.4,108.7 453.9,106.9 454.4,105.6 454.8,105.6 455.3,107.9 455.8,105.8 456.2,109.6 456.7,106.6 457.2,110.5 457.6,106.2 458.1,111.1 458.6,108.3 459.0,107.3 459.5,106.0 460.0,109.3 460.4,106.2 460.9,106.5 461.4,106.7 461.8,109.1 462.3,107.6 462.8,109.6 463.2,106.4 463.7,109.2 464.2,111.4 464.6,112.0 465.1,108.0 465.6,108.1 466.0,110.3 466.5,108.7 467.0,112.1 467.4,112.3 467.9,108.4 468.4,110.4 468.8,107.6 469.3,110.9 469.8,105.9 470.2,108.6 470.7,104.8 471.2,108.5 471.6,107.1 472.1,107.8 472.6,104.5 473.0,107.9 473.5,107.8 474.0,108.0 474.4,107.6 474.9,103.4 475.4,110.7 475.8,106.1 476.3,105.2 476.8,104.6 477.2,107.0 477.7,104.2 478.2,105.1 478.6,104.3 479.1,105.9 479.6,102.3 480.0,106.0 480.5,102.2 481.0,108.0 481.4,102.4 481.9,109.1 482.4,107.8 482.8,106.3 483.3,110.5 483.8,108.1 484.2,112.5 484.7,106.6 485.2,111.6 485.6,110.8 486.1,107.8 486.6,106.5 487.0,108.7 487.5,105.0 488.0,103.5 488.4,106.3 488.9,107.4 489.4,108.9 489.8,107.4 490.3,112.5 490.8,113.6 491.2,109.3 491.7,111.5 492.2,105.6 492.6,110.4 493.1,110.2 493.6,110.4 494.0,107.6 494.5,110.9 495.0,108.8 495.4,108.3 495.9,107.4 496.4,106.7 496.8,105.7 497.3,102.9 497.8,102.3 498.2,107.3 498.7,97.3 499.2,105.0 499.6,99.8 500.1,105.3 500.6,101.5 501.0,103.8 501.5,103.7 502.0,103.3 502.4,104.6 502.9,107.5 503.4,105.1 503.8,104.7 504.3,105.0 504.8,106.1 505.2,104.6 505.7,104.1 506.2,104.8 506.6,104.1 507.1,98.9 507.6,104.0 508.0,101.5 508.5,104.7 509.0,101.0 509.4,103.0 509.9,106.4 510.4,104.4 510.8,108.0 511.3,102.5 511.8,106.2 512.2,107.9 512.7,103.7 513.2,107.1 513.6,105.8 514.1,106.2 514.6,107.6 515.0,106.3 515.5,104.2 516.0,105.4 516.4,106.0 516.9,100.5 517.4,106.4 517.8,104.8 518.3,105.7 518.8,103.2 519.2,104.0 519.7,105.0 520.2,103.7 520.6,108.4 521.1,105.0 521.6,106.9 522.0,105.8 522.5,105.9 523.0,110.4 523.4,99.9 523.9,110.8 524.4,104.3 524.8,105.8 525.3,104.6 525.8,105.6 526.2,110.0 526.7,104.6" fill="none" stroke="#1d6ae5" stroke-width="4" stroke-linecap="round" stroke-linejoin="round" stroke-dasharray="3 21" stroke-dashoffset="5.5"/>
<polyline points="62.3,352.0 62.8,294.9 63.3,245.9 63.7,204.8 64.2,180.4 64.7,174.3 65.1,167.0 65.6,162.4 66.1,156.1 66.5,153.2 67.0,145.2 67.5,150.2 67.9,140.9 68.4,143.1 68.9,140.4 69.3,138.3 69.8,136.6 70.3,132.5 70.7,132.4 71.2,126.0 71.7,134.8 72.1,126.1 72.6,129.9 73.1,123.2 73.5,131.5 74.0,123.4 74.5,123.5 74.9,127.0 75.4,118.8 75.9,122.6 76.3,118.6 76.8,119.3 77.3,123.4 77.7,121.1 78.2,119.7 78.7,117.0 79.1,117.0 79.6,120.5 80.1,118.6 80.5,119.4 81.0,118.4 81.5,117.5 81.9,117.1 82.4,111.4 82.9,119.6 83.3,116.3 83.8,115.3 84.3,119.0 84.7,116.2 85.2,115.8 85.7,113.8 86.1,119.6 86.6,110.8 87.1,117.8 87.5,114.2 88.0,113.4 88.5,114.0 88.9,112.7 89.4,115.2 89.9,114.9 90.3,113.9 90.8,117.2 91.3,110.1 91.7,117.0 92.2,115.9 92.7,107.5 93.1,115.4 93.6,115.5 94.1,107.5 94.5,115.2 95.0,109.1 95.5,115.6 95.9,112.1 96.4,116.7 96.9,115.8 97.3,113.6 97.8,111.7 98.3,109.8 98.7,105.9 99.2,115.7 99.7,107.1 100.1,113.4 100.6,110.0 101.1,114.0 101.5,112.2 102.0,110.3 102.5,111.3 102.9,107.2 103.4,109.5 103.9,102.9 104.3,106.9 104.8,104.9 105.3,102.6 105.7,104.5 106.2,105.1 106.7,105.0 107.1,105.0 107.6,101.7 108.1,103.4 108.5,103.9 109.0,102.6 109.5,106.6 109.9,102.8 110.4,109.0 110.9,100.2 111.3,106.2 111.8,104.2 112.3,103.9 112.7,105.5 113.2,105.7 113.7,102.0 114.1,105.8 114.6,107.4 115.1,103.5 115.5,110.2 116.0,99.5 116.5,107.5 116.9,104.6 117.4,99.9 117.9,101.6 118.3,106.3 118.8,103.7 119.3,103.5 119.7,102.3 120.2,107.5 120.7,105.5 121.1,103.5 121.6,106.8 122.1,104.7 122.5,105.9 123.0,110.1 123.5,108.3 123.9,113.4 124.4,105.9 124.9,103.9 125.3,110.6 125.8,102.4 126.3,105.2 126.7,106.8 127.2,105.9 127.7,105.7 128.1,107.8 128.6,105.3 129.1,105.1 129.5,103.1 130.0,102.8 130.5,106.4 130.9,100.8 131.4,106.2 131.9,102.8 132.3,102.1 132.8,103.0 133.3,102.7 133.7,101.5 134.2,103.8 134.7,103.3 135.1,102.2 135.6,99.6 136.1,103.2 136.5,97.0 137.0,103.3 137.5,109.8 137.9,101.5 138.4,98.8 138.9,104.0 139.3,103.8 139.8,105.1 140.3,99.2 140.7,102.0 141.2,102.2 141.7,103.0 142.1,100.3 142.6,102.8 143.1,107.4 143.5,100.8 144.0,104.4 144.5,104.1 144.9,102.0 145.4,104.5 145.9,111.1 146.3,97.4 146.8,102.6 147.3,103.7 147.7,103.7 148.2,101.9 148.7,106.0 149.1,100.3 149.6,103.0 150.1,102.2 150.5,103.7 151.0,102.4 151.5,98.2 151.9,98.9 152.4,100.8 152.9,101.7 153.3,103.6 153.8,99.2 154.3,98.5 154.7,107.2 155.2,97.7 155.7,109.2 156.1,101.3 156.6,102.0 157.1,106.4 157.5,105.7 158.0,101.7 158.5,101.2 158.9,104.8 159.4,99.0 159.9,106.0 160.3,97.3 160.8,103.9 161.3,101.5 161.7,101.1 162.2,101.7 162.7,97.4 163.1,97.5 163.6,101.6 164.1,102.0 164.5,104.3 165.0,102.5 165.5,101.0 165.9,101.6 166.4,101.1 166.9,101.1 167.3,100.0 167.8,105.2 168.3,102.9 168.7,98.2 169.2,100.4 169.7,103.3 170.1,97.8 170.6,104.7 171.1,101.7 171.5,106.8 172.0,98.7 172.5,103.4 172.9,99.4 173.4,101.7 173.9,102.7 174.3,102.3 174.8,99.8 175.3,104.1 175.7,102.8 176.2,102.7 176.7,100.9 177.1,101.1 177.6,98.5 178.1,104.4 178.5,99.1 179.0,105.5 179.5,100.2 179.9,102.9 180.4,97.8 180.9,102.0 181.3,103.4 181.8,100.3 182.3,101.6 182.7,102.8 183.2,102.2 183.7,103.9 184.1,93.9 184.6,103.6 185.1,98.4 185.5,105.5 186.0,103.3 186.5,101.7 186.9,102.3 187.4,99.8 187.9,105.3 188.3,99.9 188.8,99.3 189.3,105.9 189.7,99.4 190.2,106.3 190.7,101.0 191.1,102.8 191.6,98.8 192.1,106.2 192.5,101.8 193.0,100.8 193.5,106.6 193.9,101.8 194.4,105.4 194.9,103.8 195.3,100.5 195.8,101.2 196.3,96.0 196.7,100.4 197.2,99.0 197.7,103.0 198.1,101.9 198.6,100.9 199.1,107.2 199.5,95.1 200.0,104.5 200.5,102.5 200.9,101.4 201.4,98.1 201.9,98.0 202.3,102.1 202.8,98.6 203.3,100.9 203.7,102.6 204.2,99.1 204.7,100.5 205.1,104.1 205.6,96.2 206.1,105.4 206.5,98.1 207.0,103.6 207.5,101.4 207.9,101.8 208.4,98.1 208.9,104.3 209.3,99.7 209.8,96.5 210.3,103.3 210.7,99.6 211.2,99.0 211.7,102.4 212.1,98.7 212.6,102.8 213.1,98.1 213.5,101.2 214.0,102.9 214.5,96.4 214.9,102.3 215.4,101.0 215.9,103.0 216.3,101.2 216.8,100.6 217.3,100.0 217.7,97.6 218.2,104.3 218.7,99.7 219.1,96.9 219.6,100.1 220.1,98.5 220.5,95.9 221.0,99.9 221.5,98.4 221.9,100.1 222.4,95.1 222.9,98.7 223.3,102.4 223.8,98.3 224.3,104.1 224.7,96.8 225.2,100.3 225.7,101.6 226.1,101.8 226.6,105.3 227.1,97.8 227.5,102.3 228.0,101.4 228.5,98.9 228.9,103.2 229.4,101.6 229.9,102.2 230.3,103.4 230.8,93.2 231.3,102.8 231.7,100.1 232.2,97.5 232.7,108.5 233.1,97.1 233.6,100.2 234.1,101.6 234.5,97.3 235.0,104.8 235.5,97.2 235.9,97.1 236.4,105.1 236.9,100.6 237.3,98.6 237.8,98.9 238.3,100.5 238.7,97.4 239.2,98.7 239.7,102.5 240.1,98.2 240.6,102.5 241.1,103.3 241.5,104.0 242.0,95.0 242.5,100.7 242.9,93.6 243.4,104.4 243.9,98.3 244.3,98.4 244.8,99.6 245.3,97.6 245.7,99.2 246.2,100.7 246.7,104.8 247.1,100.1 247.6,94.6 248.1,98.8 248.5,96.1 249.0,102.0 249.5,99.3 249.9,101.9 250.4,97.9 250.9,100.0 251.3,98.4 251.8,95.4 252.3,102.8 252.7,96.5 253.2,103.8 253.7,95.1 254.1,101.6 254.6,98.7 255.1,98.9 255.5,95.0 256.0,100.5 256.5,100.0 256.9,102.0 257.4,97.7 257.9,102.0 258.3,100.0 258.8,99.6 259.3,98.2 259.7,102.4 260.2,97.7 260.7,96.4 261.1,105.2 261.6,95.2 262.1,96.2 262.5,102.9 263.0,97.7 263.5,104.2 263.9,97.7 264.4,101.2 264.9,98.4 265.3,102.3 265.8,100.7 266.3,100.2 266.7,100.9 267.2,100.3 267.7,99.5 268.1,102.2 268.6,99.0 269.1,98.5 269.5,105.9 270.0,97.4 270.5,102.4 270.9,101.9 271.4,102.7 271.9,101.1 272.3,101.3 272.8,98.3 273.3,103.1 273.7,95.5 274.2,102.3 274.7,96.0 275.1,96.4 275.6,101.8 276.1,93.8 276.5,92.9 277.0,99.4 277.5,94.4 277.9,97.4 278.4,95.7 278.9,96.7 279.3,96.9 279.8,93.4 280.3,94.0 280.7,96.0 281.2,91.5 281.7,93.9 282.1,94.2 282.6,97.7 283.1,90.0 283.5,93.8 284.0,101.6 284.5,96.7 284.9,96.6 285.4,93.0 285.9,93.3 286.3,97.2 286.8,94.8 287.3,94.4 287.7,99.7 288.2,93.4 288.7,97.7 289.1,95.3 289.6,96.7 290.1,99.3 290.5,98.1 291.0,95.8 291.5,96.2 291.9,97.1 292.4,93.3 292.9,97.9 293.4,98.5 293.8,95.9 294.3,96.0 294.8,95.6 295.2,92.2 295.7,94.6 296.2,92.2 296.6,93.9 297.1,95.4 297.6,91.9 298.0,96.4 298.5,93.8 299.0,97.9 299.4,94.1 299.9,96.5 300.4,94.4 300.8,91.7 301.3,91.4 301.8,95.3 302.2,97.2 302.7,94.6 303.2,97.0 303.6,98.4 304.1,96.7 304.6,97.7 305.0,98.2 305.5,92.8 306.0,99.2 306.4,96.9 306.9,94.4 307.4,98.5 307.8,98.3 308.3,97.4 308.8,94.1 309.2,95.2 309.7,94.9 310.2,96.9 310.6,97.3 311.1,92.4 311.6,99.9 312.0,94.4 312.5,98.9 313.0,95.2 313.4,95.7 313.9,92.1 314.4,103.9 314.8,89.7 315.3,100.0 315.8,94.0 316.2,94.8 316.7,98.9 317.2,96.3 317.6,95.9 318.1,97.9 318.6,99.2 319.0,96.7 319.5,97.8 320.0,101.8 320.4,93.3 320.9,98.8 321.4,104.0 321.8,98.3 322.3,93.4 322.8,95.0 323.2,97.9 323.7,101.9 324.2,96.9 324.6,95.0 325.1,97.1 325.6,98.3 326.0,99.0 326.5,94.9 327.0,98.9 327.4,96.4 327.9,96.8 328.4,93.9 328.8,98.6 329.3,97.2 329.8,103.1 330.2,94.1 330.7,97.5 331.2,99.0 331.6,104.4 332.1,98.6 332.6,98.8 333.0,93.6 333.5,99.1 334.0,97.0 334.4,97.7 334.9,96.1 335.4,103.0 335.8,100.3 336.3,102.0 336.8,99.4 337.2,100.5 337.7,99.1 338.2,102.4 338.6,98.7 339.1,102.4 339.6,93.8 340.0,103.3 340.5,92.6 341.0,98.1 341.4,103.5 341.9,96.2 342.4,99.2 342.8,103.7 343.3,96.7 343.8,100.3 344.2,97.9 344.7,101.5 345.2,98.2 345.6,97.8 346.1,99.4 346.6,100.1 347.0,98.7 347.5,101.3 348.0,97.3 348.4,106.1 348.9,93.2 349.4,101.0 349.8,97.8 350.3,97.9 350.8,103.3 351.2,92.8 351.7,104.7 352.2,97.0 352.6,99.7 353.1,96.5 353.6,100.9 354.0,103.2 354.5,98.0 355.0,106.7 355.4,98.4 355.9,101.7 356.4,95.7 356.8,102.5 357.3,101.1 357.8,102.5 358.2,102.6 358.7,102.0 359.2,99.4 359.6,105.3 360.1,100.9 360.6,105.5 361.0,100.9 361.5,101.6 362.0,105.0 362.4,102.2 362.9,101.3 363.4,99.9 363.8,99.8 364.3,102.5 364.8,104.0 365.2,105.2 365.7,98.7 366.2,99.1 366.6,101.7 367.1,98.0 367.6,104.3 368.0,102.3 368.5,97.9 369.0,105.8 369.4,99.3 369.9,101.7 370.4,101.5 370.8,97.3 371.3,105.0 371.8,101.2 372.2,106.4 372.7,102.0 373.2,101.7 373.6,101.2 374.1,100.7 374.6,99.5 375.0,102.2 375.5,104.7 376.0,98.5 376.4,99.7 376.9,103.4 377.4,101.4 377.8,95.5 378.3,99.2 378.8,98.1 379.2,99.6 379.7,100.5 380.2,101.9 380.6,98.7 381.1,101.5 381.6,101.2 382.0,100.1 382.5,100.5 383.0,97.9 383.4,103.5 383.9,92.8 384.4,105.0 384.8,99.8 385.3,97.8 385.8,103.0 386.2,100.5 386.7,100.0 387.2,107.9 387.6,99.2 388.1,103.0 388.6,100.0 389.0,99.0 389.5,99.0 390.0,96.8 390.4,97.6 390.9,98.4 391.4,101.0 391.8,97.5 392.3,103.8 392.8,99.6 393.2,97.0 393.7,99.4 394.2,104.3 394.6,100.7 395.1,97.8 395.6,99.3 396.0,97.7 396.5,105.5 397.0,101.7 397.4,100.0 397.9,102.3 398.4,99.1 398.8,99.8 399.3,98.6 399.8,100.1 400.2,97.7 400.7,97.6 401.2,99.0 401.6,101.9 402.1,94.4 402.6,99.2 403.0,96.8 403.5,97.9 404.0,101.8 404.4,94.7 404.9,99.7 405.4,99.3 405.8,92.7 406.3,98.6 406.8,95.1 407.2,94.4 407.7,92.6 408.2,101.9 408.6,96.4 409.1,94.4 409.6,98.5 410.0,104.0 410.5,93.6 411.0,96.5 411.4,94.3 411.9,96.5 412.4,97.6 412.8,95.5 413.3,96.7 413.8,97.5 414.2,95.3 414.7,95.7 415.2,99.2 415.6,92.9 416.1,95.2 416.6,94.6 417.0,103.9 417.5,93.7 418.0,97.4 418.4,98.5 418.9,94.1 419.4,100.8 419.8,91.7 420.3,96.6 420.8,97.5 421.2,92.4 421.7,96.5 422.2,95.6 422.6,100.0 423.1,93.9 423.6,93.3 424.0,94.2 424.5,100.1 425.0,91.3 425.4,93.3 425.9,94.6 426.4,97.3 426.8,99.3 427.3,97.1 427.8,97.0 428.2,94.8 428.7,94.8 429.2,98.2 429.6,99.7 430.1,96.2 430.6,99.7 431.0,91.9 431.5,101.0 432.0,93.9 432.4,95.1 432.9,99.3 433.4,92.9 433.8,97.8 434.3,97.9 434.8,98.2 435.2,95.2 435.7,93.4 436.2,101.4 436.6,92.4 437.1,96.9 437.6,97.0 438.0,95.1 438.5,95.3 439.0,95.2 439.4,92.9 439.9,98.0 440.4,89.0 440.8,94.5 441.3,96.8 441.8,99.7 442.2,94.0 442.7,97.0 443.2,93.4 443.6,94.9 444.1,91.8 444.6,98.4 445.0,94.4 445.5,99.1 446.0,98.0 446.4,93.7 446.9,99.7 447.4,98.0 447.8,99.3 448.3,97.1 448.8,96.9 449.2,98.7 449.7,100.5 450.2,95.9 450.6,99.9 451.1,97.0 451.6,96.0 452.0,95.8 452.5,102.1 453.0,89.5 453.4,95.4 453.9,90.5 454.4,90.3 454.8,99.2 455.3,95.6 455.8,94.7 456.2,93.3 456.7,97.5 457.2,95.9 457.6,92.9 458.1,99.0 458.6,94.5 459.0,93.7 459.5,97.5 460.0,93.9 460.4,97.4 460.9,100.2 461.4,96.8 461.8,96.9 462.3,97.3 462.8,96.4 463.2,95.8 463.7,96.3 464.2,96.5 464.6,98.1 465.1,97.1 465.6,97.7 466.0,98.0 466.5,92.7 467.0,102.7 467.4,94.2 467.9,101.5 468.4,96.5 468.8,94.3 469.3,97.6 469.8,92.1 470.2,99.6 470.7,95.7 471.2,97.6 471.6,95.4 472.1,96.9 472.6,96.7 473.0,95.6 473.5,93.4 474.0,96.6 474.4,95.9 474.9,96.9 475.4,97.7 475.8,99.3 476.3,97.8 476.8,95.4 477.2,101.2 477.7,92.7 478.2,97.9 478.6,97.5 479.1,96.6 479.6,93.7 480.0,95.2 480.5,95.1 481.0,91.5 481.4,91.2 481.9,100.8 482.4,92.6 482.8,99.6 483.3,99.2 483.8,97.3 484.2,94.1 484.7,98.7 485.2,97.8 485.6,93.3 486.1,96.9 486.6,97.3 487.0,92.1 487.5,96.7 488.0,98.1 488.4,98.2 488.9,96.1 489.4,94.9 489.8,92.9 490.3,93.4 490.8,94.8 491.2,97.4 491.7,90.9 492.2,94.8 492.6,96.6 493.1,96.4 493.6,92.6 494.0,93.4 494.5,92.1 495.0,97.9 495.4,88.2 495.9,100.9 496.4,92.6 496.8,91.8 497.3,93.1 497.8,98.1 498.2,92.8 498.7,92.9 499.2,94.4 499.6,98.6 500.1,90.7 500.6,101.7 501.0,94.2 501.5,99.5 502.0,96.3 502.4,97.1 502.9,94.7 503.4,99.8 503.8,94.4 504.3,93.1 504.8,96.6 505.2,94.3 505.7,95.1 506.2,97.8 506.6,95.9 507.1,95.3 507.6,94.2 508.0,90.4 508.5,92.4 509.0,97.2 509.4,95.7 509.9,97.7 510.4,100.5 510.8,90.3 511.3,95.4 511.8,100.2 512.2,93.6 512.7,89.4 513.2,95.5 513.6,93.7 514.1,94.9 514.6,97.1 515.0,97.5 515.5,96.6 516.0,94.2 516.4,95.9 516.9,93.0 517.4,91.2 517.8,94.9 518.3,93.3 518.8,96.9 519.2,98.5 519.7,89.2 520.2,95.8 520.6,92.7 521.1,97.7 521.6,99.7 522.0,91.4 522.5,103.0 523.0,94.4 523.4,98.0 523.9,95.1 524.4,94.5 524.8,94.7 525.3,102.2 525.8,92.0 526.2,102.6 526.7,92.8" fill="none" stroke="#2ea55e" stroke-width="4" stroke-linecap="round" stroke-linejoin="round" stroke-dasharray="21 13.6 3 13.6" stroke-dashoffset="26.2"/>
</g>
<g fill="none" stroke="#000" stroke-width="1.7">
<rect x="60.6" y="16" width="465.8" height="336.3"/>
<path d="M153.3 352.3v-6.4M246.8 352.3v-6.4M340.1 352.3v-6.4M433.3 352.3v-6.4M60.6 99.9h6M60.6 184h6M60.6 268h6"/>
</g>
<g text-anchor="end">
<text x="54" y="21.9">1.1</text>
<text x="54" y="105.9">1.0</text>
<text x="54" y="189.9">0.9</text>
<text x="54" y="273.9">0.8</text>
<text x="54" y="357.9">0.7</text>
</g>
<g text-anchor="middle">
<text x="60.5" y="374">0</text>
<text x="153.8" y="374">200</text>
<text x="247.2" y="374">400</text>
<text x="340.5" y="374">600</text>
<text x="433.8" y="374">800</text>
<text x="527.2" y="374">1000</text>
<text x="294.5" y="405.5">Time (ps)</text>
</g>
<text transform="translate(21.6,246) rotate(-90)" letter-spacing="-0.35">Density</text>
<text transform="translate(21.6,180.3) rotate(-90)" letter-spacing="-0.15">(g/cm<tspan dy="-6.2" font-size="11">3</tspan><tspan dy="6.2">)</tspan></text>
<g stroke-width="4" stroke-linecap="round" fill="none">
<path d="M345 237H390" stroke="#474747"/>
<path d="M345 261.7H362M386 261.7H390" stroke="#ee3b3b"/>
<path d="M345 286H348M369 286H372" stroke="#1d6ae5"/>
<path d="M345 310.7H366M379.6 310.7H382.4" stroke="#2ea55e"/>
</g>
<text x="395" y="243.3" style="font-size:19.8px">Base asphalt</text>
<text x="395" y="267.8" style="font-size:19.8px">Aged asphalt</text>
<text x="395" y="292.3" style="font-size:19.8px">CRMA</text>
<text x="395" y="316.8" style="font-size:19.8px">Aged CRMA</text>
</svg>
</body></html>
